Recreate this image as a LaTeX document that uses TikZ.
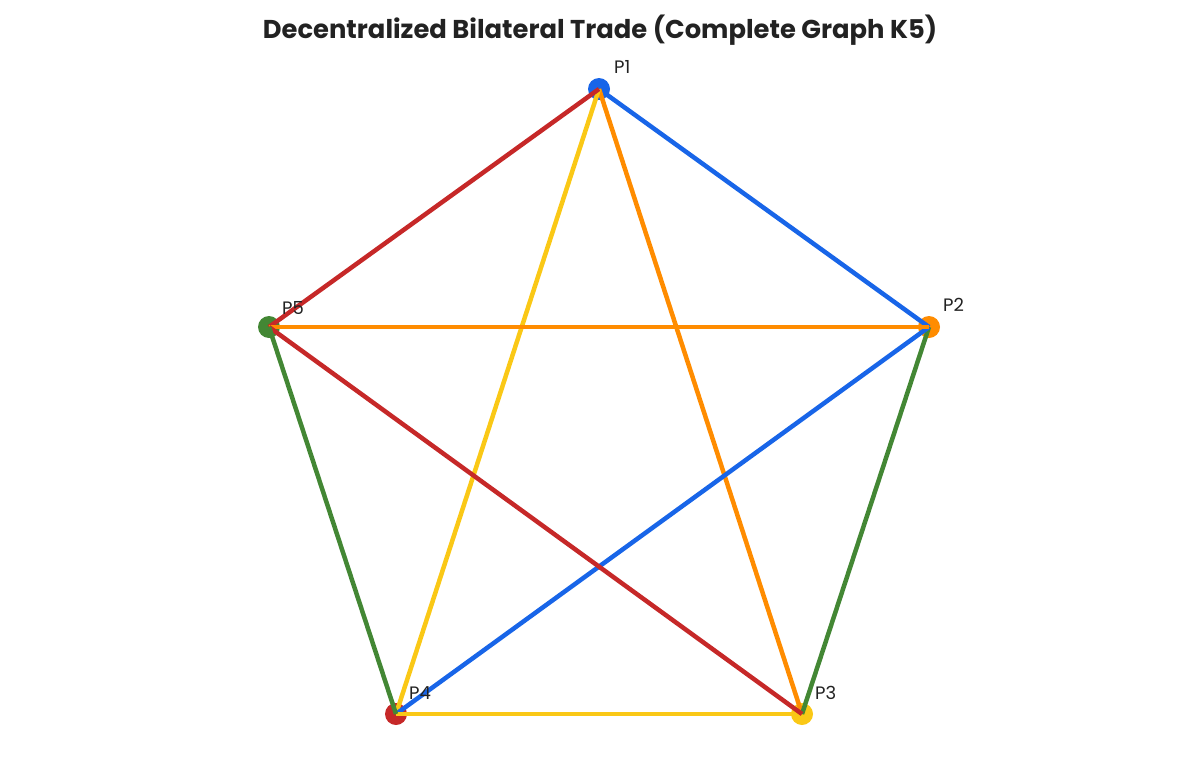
\documentclass[tikz,border=0pt]{standalone}
\usepackage{fontspec}
\setmainfont{Poppins}
\definecolor{cblue}{RGB}{24,101,232}
\definecolor{corange}{RGB}{255,140,0}
\definecolor{cyellow}{RGB}{250,200,22}
\definecolor{cred}{RGB}{198,40,40}
\definecolor{cgreen}{RGB}{67,135,52}
\definecolor{ctext}{RGB}{34,34,34}
\begin{document}
\begin{tikzpicture}[x=1pt,y=-1pt,
  dot/.style={circle,fill=#1,inner sep=0pt,minimum size=22pt},
  edge/.style={draw=#1,line width=4.5pt},
  lab/.style={font=\fontsize{18}{18}\selectfont,text=ctext,anchor=south west,inner sep=0pt}]
\useasboundingbox (0,0) rectangle (1200,763);
\node[font=\bfseries\fontsize{25.8}{26}\selectfont,text=ctext] (title) at (600,30) {Decentralized Bilateral Trade (Complete Graph K5)};
\node[dot=cblue] (p1) at (599,89) {};
\node[dot=corange] (p2) at (929,327) {};
\node[dot=cyellow] (p3) at (802,714) {};
\node[dot=cred] (p4) at (396,714) {};
\node[dot=cgreen] (p5) at (269,327) {};
\draw[edge=cblue] (p1.center) -- (p2.center);
\draw[edge=corange] (p1.center) -- (p3.center);
\draw[edge=cyellow] (p1.center) -- (p4.center);
\draw[edge=cred] (p1.center) -- (p5.center);
\draw[edge=cgreen] (p2.center) -- (p3.center);
\draw[edge=cblue] (p2.center) -- (p4.center);
\draw[edge=corange] (p2.center) -- (p5.center);
\draw[edge=cyellow] (p3.center) -- (p4.center);
\draw[edge=cred] (p3.center) -- (p5.center);
\draw[edge=cgreen] (p4.center) -- (p5.center);
\node[lab] (l1) at (614,74) {P1};
\node[lab] (l2) at (943,312) {P2};
\node[lab] (l3) at (815,700) {P3};
\node[lab] (l4) at (409,700) {P4};
\node[lab] (l5) at (282,315) {P5};
\end{tikzpicture}
\end{document}
